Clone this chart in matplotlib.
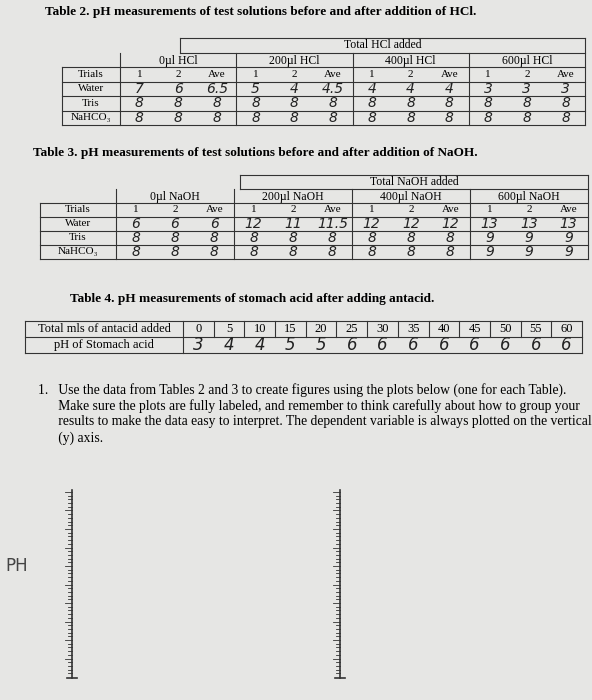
import matplotlib.pyplot as plt

groups_hcl = ['0µl HCl', '200µl HCl', '400µl HCl', '600µl HCl']
groups_naoh = ['0µl NaOH', '200µl NaOH', '400µl NaOH', '600µl NaOH']
solutions = ['Water', 'Tris', 'NaHCO₃']
hcl_vals = [
    ['7', '6', '6.5', '5', '4', '4.5', '4', '4', '4', '3', '3', '3'],
    ['8', '8', '8', '8', '8', '8', '8', '8', '8', '8', '8', '8'],
    ['8', '8', '8', '8', '8', '8', '8', '8', '8', '8', '8', '8'],
]
naoh_vals = [
    ['6', '6', '6', '12', '11', '11.5', '12', '12', '12', '13', '13', '13'],
    ['8', '8', '8', '8', '8', '8', '8', '8', '8', '9', '9', '9'],
    ['8', '8', '8', '8', '8', '8', '8', '8', '8', '9', '9', '9'],
]
antacid_ml = [0, 5, 10, 15, 20, 25, 30, 35, 40, 45, 50, 55, 60]
stomach_ph = [3, 4, 4, 5, 5, 6, 6, 6, 6, 6, 6, 6, 6]

W, H = 592, 700
fig = plt.figure(figsize=(W / 100, H / 100), dpi=100)
fig.patch.set_facecolor('#e6e6e4')
ax = fig.add_axes([0, 0, 1, 1])
ax.set_xlim(0, W)
ax.set_ylim(H, 0)
ax.axis('off')

serif = 'Liberation Serif'
hand = dict(fontsize=10, color='#222', fontstyle='italic', family='DejaVu Sans')
INK = '#333'
FS = 8


def hline(y, x0, x1, lw=0.8):
    ax.plot([x0, x1], [y, y], color=INK, lw=lw)


def vline(x, y0, y1, lw=0.8):
    ax.plot([x, x], [y0, y1], color=INK, lw=lw)


def big_table(x0, x1, lab_w, top, rh, total_lbl, groups, vals, gx0):
    r = [top + i * rh for i in range(7)]
    cx0 = x0 + lab_w
    cw = (x1 - cx0) / 12
    ax.text((gx0 + x1) / 2, r[0] + rh / 2, total_lbl, family=serif, fontsize=FS + 0.5,
            ha='center', va='center')
    for g, name in enumerate(groups):
        ax.text(cx0 + (g * 3 + 1.5) * cw, r[1] + rh / 2 + 1, name, family=serif,
                fontsize=FS + 0.5, ha='center', va='center')
    for k in range(12):
        ax.text(cx0 + (k + 0.5) * cw, r[2] + rh / 2, ['1', '2', 'Ave'][k % 3],
                family=serif, fontsize=FS, ha='center', va='center')
    ax.text(x0 + lab_w / 2, r[2] + rh / 2, 'Trials', family=serif, fontsize=FS,
            ha='center', va='center')
    for i, s in enumerate(solutions):
        ax.text(x0 + lab_w / 2, r[3 + i] + rh / 2, s, family=serif, fontsize=FS,
                ha='center', va='center')
        for k, v in enumerate(vals[i]):
            ax.text(cx0 + (k + 0.5) * cw, r[3 + i] + rh / 2, v, ha='center',
                    va='center', **hand)
    hline(r[0], gx0, x1)
    hline(r[1], gx0, x1)
    for y in r[2:]:
        hline(y, x0, x1)
    vline(x0, r[2], r[6])
    vline(x1, r[0], r[6])
    vline(gx0, r[0], r[1])
    vline(cx0, r[1], r[6])
    for g in range(1, 4):
        vline(cx0 + g * 3 * cw, r[1], r[6])


ax.text(45, 12, 'Table 2. pH measurements of test solutions before and after addition of HCl.',
        family=serif, fontsize=9.5, fontweight='bold', va='center')
big_table(62, 585, 58, 38, 14.5, 'Total HCl added', groups_hcl, hcl_vals, 180)
ax.text(33, 153, 'Table 3. pH measurements of test solutions before and after addition of NaOH.',
        family=serif, fontsize=9.5, fontweight='bold', va='center')
big_table(40, 588, 76, 175, 14, 'Total NaOH added', groups_naoh, naoh_vals, 240)

ax.text(70, 299, 'Table 4. pH measurements of stomach acid after adding antacid.',
        family=serif, fontsize=9.5, fontweight='bold', va='center')
tx0, tx1, lw4 = 25, 582, 158
cw4 = (tx1 - tx0 - lw4) / len(antacid_ml)
for y in (321, 337, 353):
    hline(y, tx0, tx1)
vline(tx0, 321, 353)
vline(tx0 + lw4, 321, 353)
vline(tx1, 321, 353)
ax.text(tx0 + lw4 / 2, 329, 'Total mls of antacid added', family=serif, fontsize=9,
        ha='center', va='center')
ax.text(tx0 + lw4 / 2, 345, 'pH of Stomach acid', family=serif, fontsize=9,
        ha='center', va='center')
for k, (m, p) in enumerate(zip(antacid_ml, stomach_ph)):
    cx = tx0 + lw4 + (k + 0.5) * cw4
    ax.text(cx, 329, str(m), family=serif, fontsize=9, ha='center', va='center')
    ax.text(cx, 345, str(p), ha='center', va='center', **dict(hand, fontsize=12))
    if k:
        vline(tx0 + lw4 + k * cw4, 321, 337)

para = ['1.   Use the data from Tables 2 and 3 to create figures using the plots below (one for each Table).',
        '      Make sure the plots are fully labeled, and remember to think carefully about how to group your',
        '      results to make the data easy to interpret. The dependent variable is always plotted on the vertical',
        '      (y) axis.']
for i, line in enumerate(para):
    ax.text(38, 390 + i * 16, line, family=serif, fontsize=9.8, va='center')

# empty plot frames with ruler ticks
for x_axis in (72, 340):
    vline(x_axis, 490, 678, lw=1.2)
    hline(678, x_axis - 5, x_axis + 5, lw=1.2)
    y = 492
    j = 0
    while y < 676:
        ln = 7 if j % 5 == 0 else 4
        hline(y, x_axis - ln, x_axis, lw=0.6)
        y += 3.7
        j += 1

ax.text(5, 566, 'PH', fontsize=12, color='#444', va='center', family='DejaVu Sans')

fig.savefig('out.png', dpi=100, facecolor=fig.get_facecolor())
